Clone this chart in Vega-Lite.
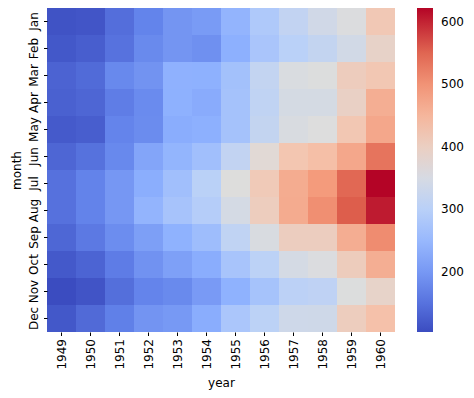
{
  "$schema": "https://vega.github.io/schema/vega-lite/v6.json",
  "autosize": {"type": "none"},
  "padding": {"left": 47, "top": 8, "right": 79, "bottom": 66},
  "width": 348,
  "height": 324,
  "config": {
    "view": {"stroke": null},
    "font": "DejaVu Sans",
    "axis": {"labelFont": "DejaVu Sans", "titleFont": "DejaVu Sans", "labelFontSize": 12, "titleFontSize": 12, "titleFontWeight": "normal", "labelColor": "#000", "titleColor": "#000", "tickColor": "#000", "tickSize": 3.5, "domain": false, "labelPadding": 3}
  },
  "datasets": {
    "flights": [
      {"year": "1949", "month": "Jan", "passengers": 112}, {"year": "1949", "month": "Feb", "passengers": 118}, {"year": "1949", "month": "Mar", "passengers": 132}, {"year": "1949", "month": "Apr", "passengers": 129}, {"year": "1949", "month": "May", "passengers": 121}, {"year": "1949", "month": "Jun", "passengers": 135}, {"year": "1949", "month": "Jul", "passengers": 148}, {"year": "1949", "month": "Aug", "passengers": 148}, {"year": "1949", "month": "Sep", "passengers": 136}, {"year": "1949", "month": "Oct", "passengers": 119}, {"year": "1949", "month": "Nov", "passengers": 104}, {"year": "1949", "month": "Dec", "passengers": 118},
      {"year": "1950", "month": "Jan", "passengers": 115}, {"year": "1950", "month": "Feb", "passengers": 126}, {"year": "1950", "month": "Mar", "passengers": 141}, {"year": "1950", "month": "Apr", "passengers": 135}, {"year": "1950", "month": "May", "passengers": 125}, {"year": "1950", "month": "Jun", "passengers": 149}, {"year": "1950", "month": "Jul", "passengers": 170}, {"year": "1950", "month": "Aug", "passengers": 170}, {"year": "1950", "month": "Sep", "passengers": 158}, {"year": "1950", "month": "Oct", "passengers": 133}, {"year": "1950", "month": "Nov", "passengers": 114}, {"year": "1950", "month": "Dec", "passengers": 140},
      {"year": "1951", "month": "Jan", "passengers": 145}, {"year": "1951", "month": "Feb", "passengers": 150}, {"year": "1951", "month": "Mar", "passengers": 178}, {"year": "1951", "month": "Apr", "passengers": 163}, {"year": "1951", "month": "May", "passengers": 172}, {"year": "1951", "month": "Jun", "passengers": 178}, {"year": "1951", "month": "Jul", "passengers": 199}, {"year": "1951", "month": "Aug", "passengers": 199}, {"year": "1951", "month": "Sep", "passengers": 184}, {"year": "1951", "month": "Oct", "passengers": 162}, {"year": "1951", "month": "Nov", "passengers": 146}, {"year": "1951", "month": "Dec", "passengers": 166},
      {"year": "1952", "month": "Jan", "passengers": 171}, {"year": "1952", "month": "Feb", "passengers": 180}, {"year": "1952", "month": "Mar", "passengers": 193}, {"year": "1952", "month": "Apr", "passengers": 181}, {"year": "1952", "month": "May", "passengers": 183}, {"year": "1952", "month": "Jun", "passengers": 218}, {"year": "1952", "month": "Jul", "passengers": 230}, {"year": "1952", "month": "Aug", "passengers": 242}, {"year": "1952", "month": "Sep", "passengers": 209}, {"year": "1952", "month": "Oct", "passengers": 191}, {"year": "1952", "month": "Nov", "passengers": 172}, {"year": "1952", "month": "Dec", "passengers": 194},
      {"year": "1953", "month": "Jan", "passengers": 196}, {"year": "1953", "month": "Feb", "passengers": 196}, {"year": "1953", "month": "Mar", "passengers": 236}, {"year": "1953", "month": "Apr", "passengers": 235}, {"year": "1953", "month": "May", "passengers": 229}, {"year": "1953", "month": "Jun", "passengers": 243}, {"year": "1953", "month": "Jul", "passengers": 264}, {"year": "1953", "month": "Aug", "passengers": 272}, {"year": "1953", "month": "Sep", "passengers": 237}, {"year": "1953", "month": "Oct", "passengers": 211}, {"year": "1953", "month": "Nov", "passengers": 180}, {"year": "1953", "month": "Dec", "passengers": 201},
      {"year": "1954", "month": "Jan", "passengers": 204}, {"year": "1954", "month": "Feb", "passengers": 188}, {"year": "1954", "month": "Mar", "passengers": 235}, {"year": "1954", "month": "Apr", "passengers": 227}, {"year": "1954", "month": "May", "passengers": 234}, {"year": "1954", "month": "Jun", "passengers": 264}, {"year": "1954", "month": "Jul", "passengers": 302}, {"year": "1954", "month": "Aug", "passengers": 293}, {"year": "1954", "month": "Sep", "passengers": 259}, {"year": "1954", "month": "Oct", "passengers": 229}, {"year": "1954", "month": "Nov", "passengers": 203}, {"year": "1954", "month": "Dec", "passengers": 229},
      {"year": "1955", "month": "Jan", "passengers": 242}, {"year": "1955", "month": "Feb", "passengers": 233}, {"year": "1955", "month": "Mar", "passengers": 267}, {"year": "1955", "month": "Apr", "passengers": 269}, {"year": "1955", "month": "May", "passengers": 270}, {"year": "1955", "month": "Jun", "passengers": 315}, {"year": "1955", "month": "Jul", "passengers": 364}, {"year": "1955", "month": "Aug", "passengers": 347}, {"year": "1955", "month": "Sep", "passengers": 312}, {"year": "1955", "month": "Oct", "passengers": 274}, {"year": "1955", "month": "Nov", "passengers": 237}, {"year": "1955", "month": "Dec", "passengers": 278},
      {"year": "1956", "month": "Jan", "passengers": 284}, {"year": "1956", "month": "Feb", "passengers": 277}, {"year": "1956", "month": "Mar", "passengers": 317}, {"year": "1956", "month": "Apr", "passengers": 313}, {"year": "1956", "month": "May", "passengers": 318}, {"year": "1956", "month": "Jun", "passengers": 374}, {"year": "1956", "month": "Jul", "passengers": 413}, {"year": "1956", "month": "Aug", "passengers": 405}, {"year": "1956", "month": "Sep", "passengers": 355}, {"year": "1956", "month": "Oct", "passengers": 306}, {"year": "1956", "month": "Nov", "passengers": 271}, {"year": "1956", "month": "Dec", "passengers": 306},
      {"year": "1957", "month": "Jan", "passengers": 315}, {"year": "1957", "month": "Feb", "passengers": 301}, {"year": "1957", "month": "Mar", "passengers": 356}, {"year": "1957", "month": "Apr", "passengers": 348}, {"year": "1957", "month": "May", "passengers": 355}, {"year": "1957", "month": "Jun", "passengers": 422}, {"year": "1957", "month": "Jul", "passengers": 465}, {"year": "1957", "month": "Aug", "passengers": 467}, {"year": "1957", "month": "Sep", "passengers": 404}, {"year": "1957", "month": "Oct", "passengers": 347}, {"year": "1957", "month": "Nov", "passengers": 305}, {"year": "1957", "month": "Dec", "passengers": 336},
      {"year": "1958", "month": "Jan", "passengers": 340}, {"year": "1958", "month": "Feb", "passengers": 318}, {"year": "1958", "month": "Mar", "passengers": 362}, {"year": "1958", "month": "Apr", "passengers": 348}, {"year": "1958", "month": "May", "passengers": 363}, {"year": "1958", "month": "Jun", "passengers": 435}, {"year": "1958", "month": "Jul", "passengers": 491}, {"year": "1958", "month": "Aug", "passengers": 505}, {"year": "1958", "month": "Sep", "passengers": 404}, {"year": "1958", "month": "Oct", "passengers": 359}, {"year": "1958", "month": "Nov", "passengers": 310}, {"year": "1958", "month": "Dec", "passengers": 337},
      {"year": "1959", "month": "Jan", "passengers": 360}, {"year": "1959", "month": "Feb", "passengers": 342}, {"year": "1959", "month": "Mar", "passengers": 406}, {"year": "1959", "month": "Apr", "passengers": 396}, {"year": "1959", "month": "May", "passengers": 420}, {"year": "1959", "month": "Jun", "passengers": 472}, {"year": "1959", "month": "Jul", "passengers": 548}, {"year": "1959", "month": "Aug", "passengers": 559}, {"year": "1959", "month": "Sep", "passengers": 463}, {"year": "1959", "month": "Oct", "passengers": 407}, {"year": "1959", "month": "Nov", "passengers": 362}, {"year": "1959", "month": "Dec", "passengers": 405},
      {"year": "1960", "month": "Jan", "passengers": 417}, {"year": "1960", "month": "Feb", "passengers": 391}, {"year": "1960", "month": "Mar", "passengers": 419}, {"year": "1960", "month": "Apr", "passengers": 461}, {"year": "1960", "month": "May", "passengers": 472}, {"year": "1960", "month": "Jun", "passengers": 535}, {"year": "1960", "month": "Jul", "passengers": 622}, {"year": "1960", "month": "Aug", "passengers": 606}, {"year": "1960", "month": "Sep", "passengers": 508}, {"year": "1960", "month": "Oct", "passengers": 461}, {"year": "1960", "month": "Nov", "passengers": 390}, {"year": "1960", "month": "Dec", "passengers": 432}
    ]
  },
  "data": {"name": "flights"},
  "mark": {"type": "rect", "strokeWidth": 0},
  "encoding": {
    "x": {"field": "year", "type": "ordinal", "title": "year", "scale": {"paddingInner": 0, "paddingOuter": 0},
      "axis": {"labelAngle": -90, "labelAlign": "right", "labelBaseline": "middle", "titlePadding": 8}},
    "y": {"field": "month", "type": "ordinal", "title": "month",
      "sort": ["Jan", "Feb", "Mar", "Apr", "May", "Jun", "Jul", "Aug", "Sep", "Oct", "Nov", "Dec"],
      "scale": {"paddingInner": 0, "paddingOuter": 0},
      "axis": {"labelAngle": -90, "labelAlign": "center", "labelBaseline": "bottom", "titlePadding": 4}},
    "color": {"field": "passengers", "type": "quantitative", "title": null,
      "scale": {"domain": [104, 168.75, 233.5, 298.25, 363, 427.75, 492.5, 557.25, 622],
        "range": ["#3b4cc0", "#6282ea", "#8db0fe", "#b8d0f9", "#dddddd", "#f5c4ad", "#f49a7b", "#de604d", "#b40426"],
        "interpolate": "rgb"},
      "legend": {"values": [200, 300, 400, 500, 600], "gradientLength": 324, "gradientThickness": 16, "offset": 22, "padding": 0,
        "labelFontSize": 12, "labelFont": "DejaVu Sans", "labelColor": "#000", "labelOffset": 8, "gradientStrokeWidth": 0}}
  }
}
